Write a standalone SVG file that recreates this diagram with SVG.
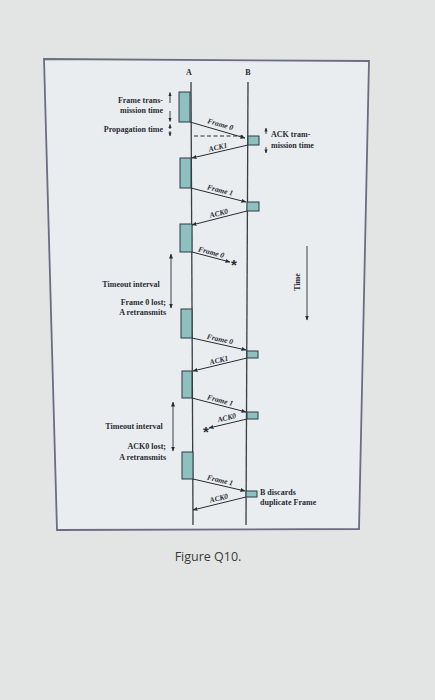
<svg xmlns="http://www.w3.org/2000/svg" width="435" height="700" viewBox="0 0 435 700">
<defs>
<marker id="ah" viewBox="0 0 10 10" refX="9" refY="5" markerWidth="5" markerHeight="5" orient="auto-start-reverse" markerUnits="userSpaceOnUse">
<path d="M0,1 L10,5 L0,9 z" fill="#2a2c34"/>
</marker>
<marker id="ahs" viewBox="0 0 10 10" refX="9" refY="5" markerWidth="4" markerHeight="4" orient="auto-start-reverse" markerUnits="userSpaceOnUse">
<path d="M0,1 L10,5 L0,9 z" fill="#2a2c34"/>
</marker>
</defs>
<style>
.lbl{font-family:"Liberation Serif",serif;font-weight:bold;font-size:8px;fill:#2a2c34}
.al{font-family:"Liberation Serif",serif;font-weight:bold;font-style:italic;font-size:7.5px;fill:#2a2c34}
.box{fill:#8ec0c0;stroke:#2e3a44;stroke-width:1}
.life{stroke:#3a3c46;stroke-width:1.3;fill:none}
.msg{stroke:#2a2c34;stroke-width:1;fill:none;marker-end:url(#ah)}
.dim{stroke:#2a2c34;stroke-width:0.9;fill:none}
.star{font-family:"Liberation Sans",sans-serif;font-weight:bold;font-size:15px;fill:#2a2c34}
</style>
<rect width="435" height="700" fill="#e3e5e5"/>
<polygon points="44,59 369,61 359,529 57,530" fill="#e9edef" stroke="#6a6e80" stroke-width="1.8"/>

<g id="lifelines">
<text class="lbl" x="189" y="75" text-anchor="middle" font-size="9.5">A</text>
<text class="lbl" x="248" y="75" text-anchor="middle" font-size="9.5">B</text>
<line class="life" x1="191" y1="82" x2="193" y2="525"/>
<line class="life" x1="248" y1="82" x2="246" y2="525"/>
</g>

<g id="boxes">
<rect class="box" x="179" y="92" width="11" height="30"/>
<rect class="box" x="248" y="136" width="11" height="9"/>
<rect class="box" x="180" y="158" width="11" height="30"/>
<rect class="box" x="247" y="202" width="12" height="9"/>
<rect class="box" x="180" y="224" width="12" height="28"/>
<rect class="box" x="181" y="309" width="11" height="29"/>
<rect class="box" x="247" y="351" width="11" height="7"/>
<rect class="box" x="182" y="371" width="10" height="27"/>
<rect class="box" x="247" y="412" width="11" height="7"/>
<rect class="box" x="182" y="452" width="11" height="27"/>
<rect class="box" x="246" y="491" width="11" height="6"/>
</g>

<g id="connectors">
<line x1="194" y1="136" x2="243" y2="136" stroke="#2a2c34" stroke-width="1" stroke-dasharray="4,2.5"/>
<line class="msg" x1="190" y1="122" x2="245" y2="138"/>
<line class="msg" x1="248" y1="145" x2="192" y2="158"/>
<line class="msg" x1="191" y1="188" x2="246" y2="202"/>
<line class="msg" x1="247" y1="211" x2="192" y2="225"/>
<line class="msg" x1="192" y1="252" x2="230" y2="262"/>
<line class="msg" x1="192" y1="338" x2="246" y2="350"/>
<line class="msg" x1="247" y1="358" x2="193" y2="371"/>
<line class="msg" x1="192" y1="398" x2="246" y2="412"/>
<line class="msg" x1="247" y1="419" x2="209" y2="428"/>
<line class="msg" x1="193" y1="479" x2="245" y2="491"/>
<line class="msg" x1="246" y1="497" x2="193" y2="510"/>
</g>

<g id="arrow-labels">
<g transform="translate(219,129) rotate(16)"><text class="al" x="0" y="-2.5" text-anchor="middle">Frame 0</text></g>
<g transform="translate(219,152) rotate(-13)"><text class="al" x="0" y="-2.5" text-anchor="middle">ACK1</text></g>
<g transform="translate(219,195) rotate(14)"><text class="al" x="0" y="-2.5" text-anchor="middle">Frame 1</text></g>
<g transform="translate(220,218) rotate(-14)"><text class="al" x="0" y="-2.5" text-anchor="middle">ACK0</text></g>
<g transform="translate(210,257) rotate(15)"><text class="al" x="0" y="-2.5" text-anchor="middle">Frame 0</text></g>
<g transform="translate(219,344) rotate(12.5)"><text class="al" x="0" y="-2.5" text-anchor="middle">Frame 0</text></g>
<g transform="translate(220,365) rotate(-13.5)"><text class="al" x="0" y="-2.5" text-anchor="middle">ACK1</text></g>
<g transform="translate(219,405) rotate(14.5)"><text class="al" x="0" y="-2.5" text-anchor="middle">Frame 1</text></g>
<g transform="translate(226,423) rotate(-14)"><text class="al" x="2" y="-2.5" text-anchor="middle">ACK0</text></g>
<g transform="translate(219,485) rotate(13)"><text class="al" x="0" y="-2.5" text-anchor="middle">Frame 1</text></g>
<g transform="translate(220,503) rotate(-13.8)"><text class="al" x="0" y="-2.5" text-anchor="middle">ACK0</text></g>
<text class="star" x="234" y="270" text-anchor="middle">*</text>
<text class="star" x="206" y="437" text-anchor="middle">*</text>
</g>

<g id="annotations">
<text class="lbl" x="163" y="103" text-anchor="end">Frame trans-</text>
<text class="lbl" x="163" y="113" text-anchor="end">mission time</text>
<line class="dim" x1="170" y1="103" x2="170" y2="92.5" marker-end="url(#ahs)"/>
<line class="dim" x1="170" y1="111" x2="170" y2="121.5" marker-end="url(#ahs)"/>
<text class="lbl" x="163" y="132" text-anchor="end">Propagation time</text>
<line class="dim" x1="170" y1="129" x2="170" y2="124.5" marker-end="url(#ahs)"/>
<line class="dim" x1="170" y1="131" x2="170" y2="136" marker-end="url(#ahs)"/>

<line class="dim" x1="266" y1="134" x2="266" y2="128" marker-end="url(#ahs)"/>
<line class="dim" x1="266" y1="147" x2="266" y2="153" marker-end="url(#ahs)"/>
<text class="lbl" x="271" y="137">ACK tram-</text>
<text class="lbl" x="271" y="148">mission time</text>

<line class="dim" x1="307" y1="246" x2="307" y2="320" marker-end="url(#ah)"/>
<text class="lbl" x="0" y="0" text-anchor="middle" font-size="6.5" transform="translate(300,282) rotate(-90)">Time</text>

<line class="dim" x1="171" y1="290" x2="171" y2="254" marker-end="url(#ah)"/>
<line class="dim" x1="171" y1="290" x2="171" y2="308" marker-end="url(#ah)"/>
<text class="lbl" x="131" y="287" text-anchor="middle">Timeout interval</text>
<text class="lbl" x="166" y="305" text-anchor="end">Frame 0 lost;</text>
<text class="lbl" x="166" y="315" text-anchor="end">A retransmits</text>

<line class="dim" x1="173" y1="430" x2="173" y2="402" marker-end="url(#ah)"/>
<line class="dim" x1="173" y1="430" x2="173" y2="451" marker-end="url(#ah)"/>
<text class="lbl" x="134" y="429" text-anchor="middle">Timeout interval</text>
<text class="lbl" x="166" y="449" text-anchor="end">ACK0 lost;</text>
<text class="lbl" x="166" y="460" text-anchor="end">A retransmits</text>

<text class="lbl" x="260" y="495">B discards</text>
<text class="lbl" x="260" y="505">duplicate Frame</text>
</g>

<text x="208" y="561" text-anchor="middle" font-family="'Open Sans','Liberation Sans',sans-serif" font-size="12.5" fill="#3a3a3a">Figure Q10.</text>
</svg>
